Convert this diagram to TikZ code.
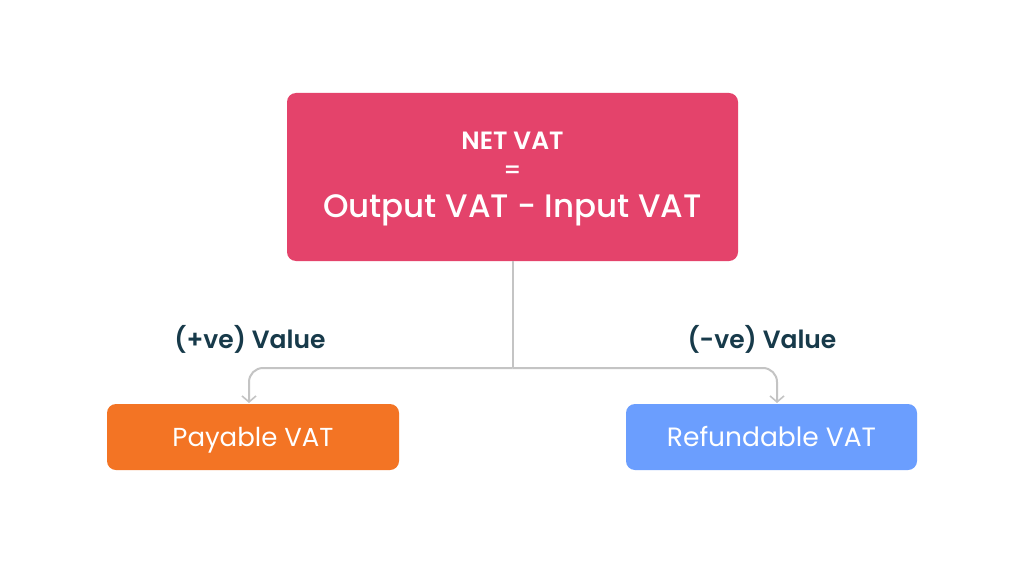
\documentclass[tikz,border=0pt]{standalone}
\usepackage{fontspec}
\setmainfont{Poppins}
\newfontfamily\poppinsmed{Poppins}[UprightFont=* Medium, BoldFont=* SemiBold]
\usepackage{tikz}
\usetikzlibrary{arrows.meta, positioning}
\definecolor{netpink}{HTML}{E4436B}
\definecolor{payorange}{HTML}{F37424}
\definecolor{refblue}{HTML}{6B9EFE}
\definecolor{labelteal}{HTML}{173A4A}
\definecolor{linegray}{HTML}{C4C4C4}
\tikzset{
    block/.style={rectangle, rounded corners=9pt, align=center, text=white, inner sep=0pt, text height=24pt, text depth=6pt},
    boxtext/.style={text=white, inner sep=0pt},
    arrow/.style={draw=linegray, line width=2pt, -{Straight Barb[length=6pt, width=14pt, line width=1.6pt]}, rounded corners=14pt},
    valuelabel/.style={text=labelteal, font=\fontsize{25}{30}\selectfont\poppinsmed\bfseries}
}
\begin{document}
\begin{tikzpicture}[x=1pt, y=1pt]
    \useasboundingbox[fill=white] (0,0) rectangle (1024,566);
    % boxes
    \node[block, fill=netpink, minimum width=451pt, minimum height=168pt] (net) at (512.5,389) {};
    \node[boxtext, anchor=base, font=\fontsize{25}{30}\selectfont\poppinsmed\bfseries] (nettitle) at (512.5,417) {NET VAT};
    \node[boxtext, font=\fontsize{24}{30}\selectfont\poppinsmed] (neteq) at (512.5,394) {=};
    \node[boxtext, anchor=base, font=\fontsize{32.5}{38}\selectfont\poppinsmed] (netformula) at (512.5,349) {Output VAT - Input VAT};
    \node[block, fill=payorange, minimum width=292pt, minimum height=66pt, font=\fontsize{26}{30}\selectfont] (payable) at (253,129) {Payable VAT};
    \node[block, fill=refblue, minimum width=291pt, minimum height=66pt, font=\fontsize{26.5}{30}\selectfont] (refund) at (771.5,129) {Refundable VAT};
    % labels
    \node[valuelabel] (poslabel) at (250,227) {(+ve) Value};
    \node[valuelabel] (neglabel) at (762,227) {(-ve) Value};
    % connectors
    \coordinate (fork) at (net.south |- 0,198);
    \draw[linegray, line width=2pt] (net.south) -- (fork);
    \draw[arrow] (fork) -| (249,163);
    \draw[arrow] (fork) -| (777,163);
\end{tikzpicture}
\end{document}
